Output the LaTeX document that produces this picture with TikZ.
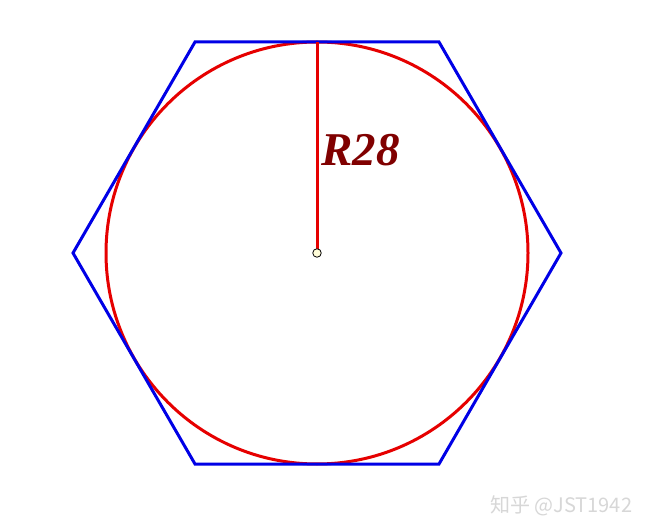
\documentclass[tikz,border=0pt]{standalone}
\usepackage{fontspec}
\setmainfont{Liberation Serif}
\newfontfamily\cjkfont{Noto Sans CJK SC}
\definecolor{hexblue}{RGB}{0,0,230}
\definecolor{circred}{RGB}{230,0,0}
\definecolor{labred}{RGB}{128,0,0}
\definecolor{wmgray}{RGB}{215,215,215}
\tikzset{
  hexline/.style={draw=hexblue, line width=3pt, line join=miter},
  circline/.style={draw=circred, line width=3pt},
  centerdot/.style={circle, draw=black, fill=yellow!15, line width=0.8pt, inner sep=0pt, minimum size=8.5pt},
  lab/.style={text=labred, font=\fontsize{47}{50}\selectfont\bfseries\itshape, inner sep=0pt},
  wm/.style={text=wmgray, font=\cjkfont\fontsize{20}{22}\selectfont, inner sep=0pt}
}
\begin{document}
\begin{tikzpicture}[x=1pt,y=1pt]
\useasboundingbox (0,0) rectangle (650,530);
\fill[white] (0,0) rectangle (650,530);
\coordinate (c) at (317,277);
\coordinate (top) at (317,488);
\draw[circline] (c) circle (211);
\draw[hexline] (73,277) -- (195,488) -- (439,488) -- (561,277) -- (439,66) -- (195,66) -- cycle;
\draw[circline] (c) -- (top);
\node[centerdot] (cd) at (c) {};
\node[lab, anchor=base west] (r) at (321,364) {R28};
\node[wm, anchor=base west] (w) at (490,18) {知乎 @JST1942};
\end{tikzpicture}
\end{document}
